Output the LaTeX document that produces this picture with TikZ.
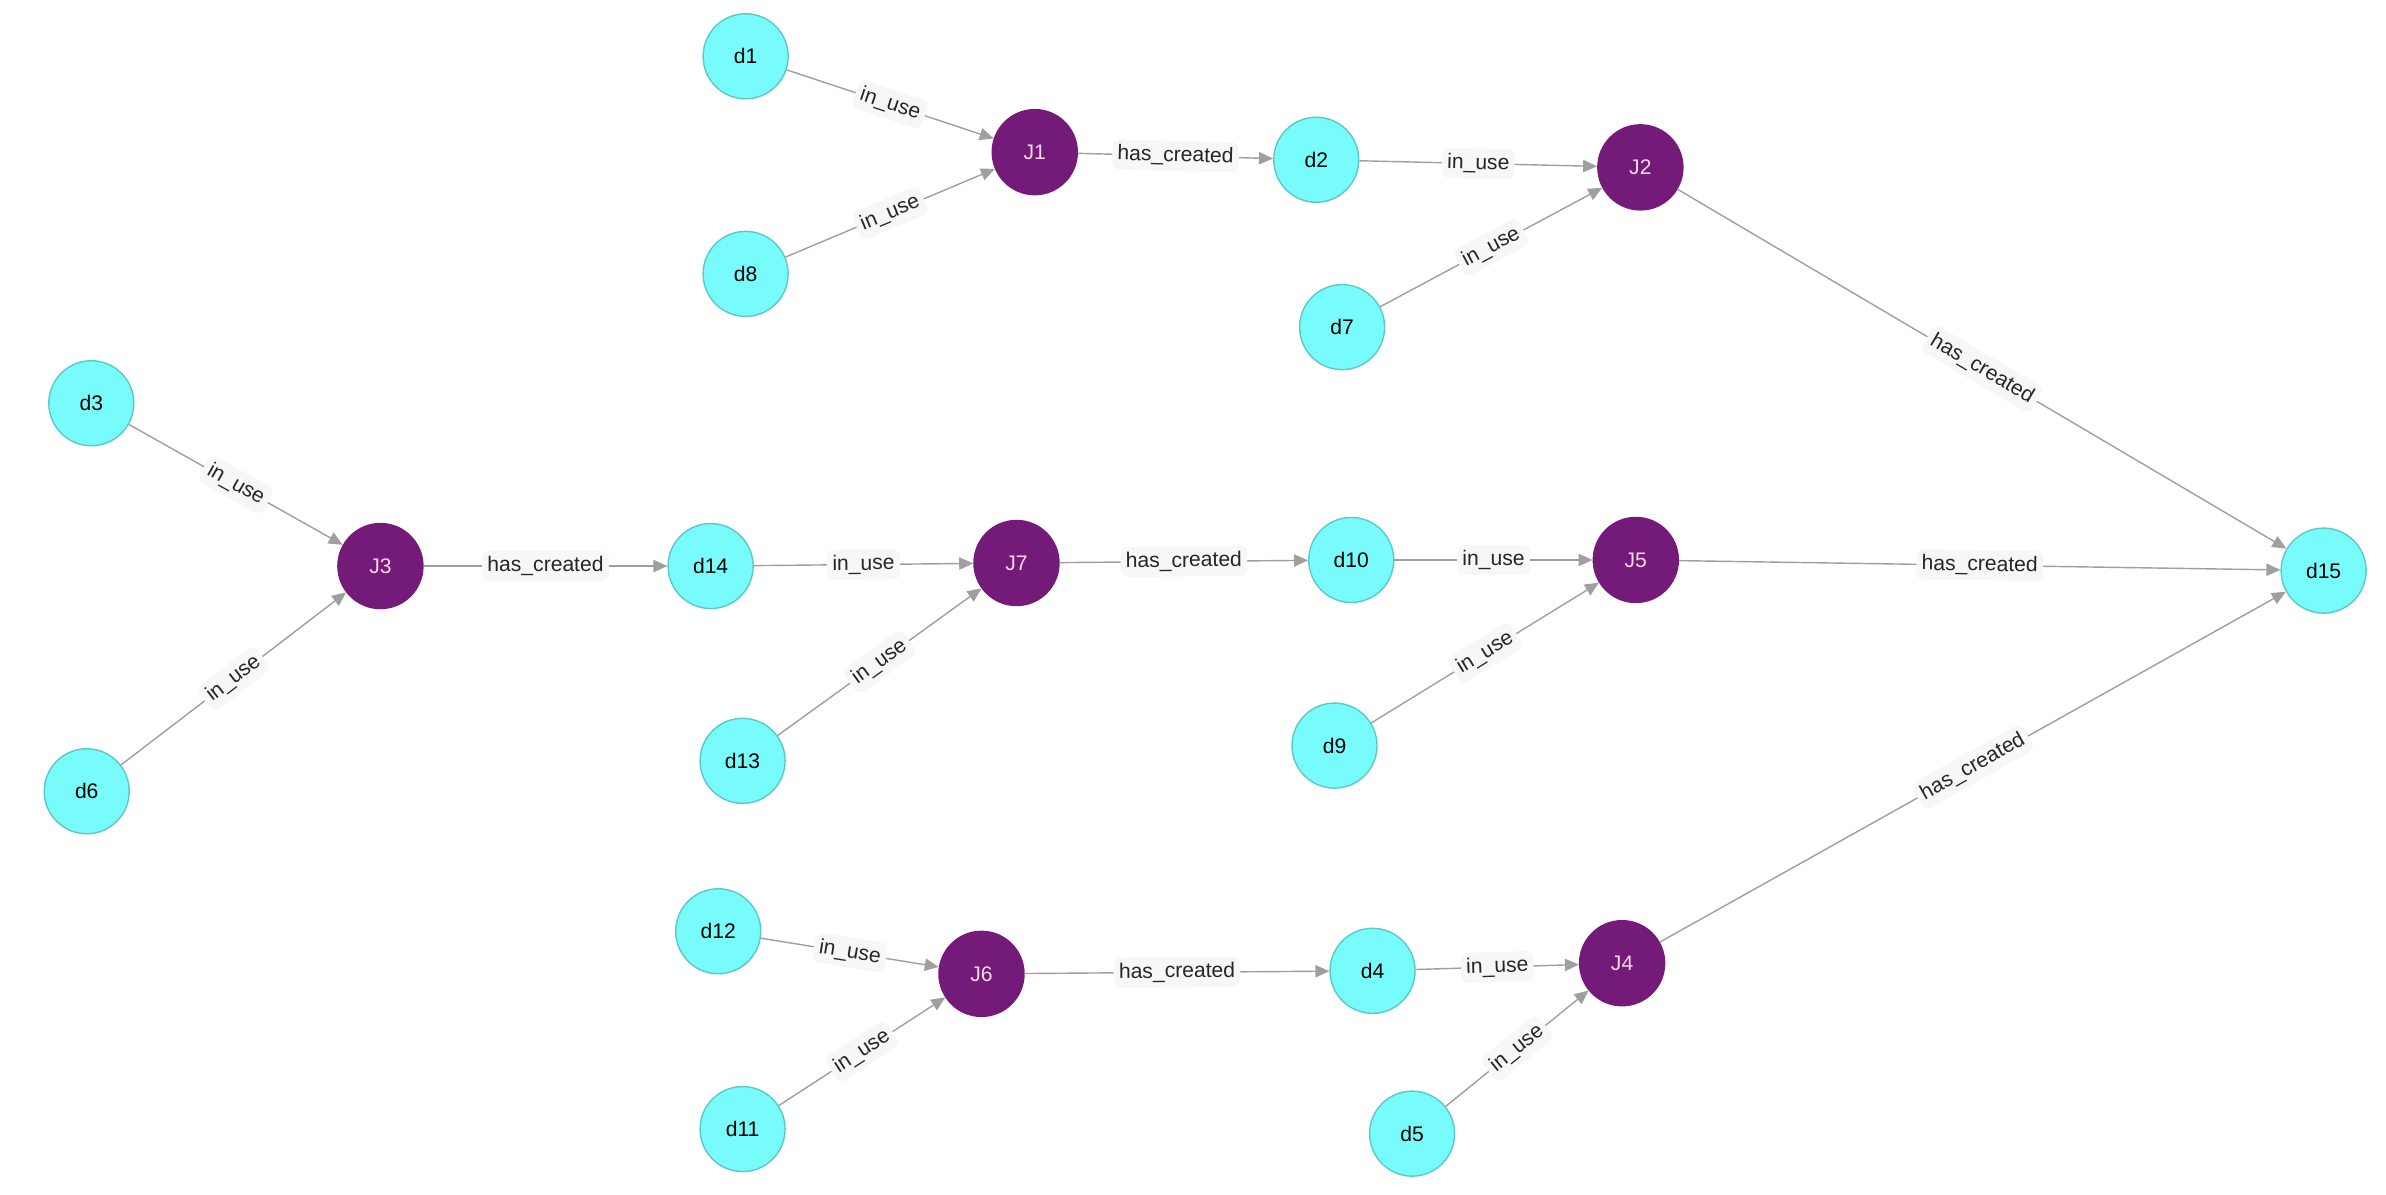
\documentclass[tikz,border=0pt]{standalone}
\usepackage{fontspec}
\setmainfont{Liberation Sans}
\usetikzlibrary{arrows.meta}
\definecolor{dcyan}{HTML}{78FBFB}
\definecolor{dborder}{HTML}{5CC8C8}
\definecolor{jpurple}{HTML}{741A78}
\tikzset{
  data/.style={circle, draw=dborder, fill=dcyan, minimum size=0.85cm, inner sep=0pt, font=\fontsize{6}{7}\selectfont},
  job/.style={circle, draw=jpurple, fill=jpurple, text=white!85!magenta, minimum size=0.85cm, inner sep=0pt, font=\fontsize{6}{7}\selectfont},
  arrow/.style={-{Triangle[length=4pt, width=3.5pt]}, draw=gray!75, line width=0.4pt},
  lbl/.style={sloped, fill=gray!6, rounded corners=2pt, inner sep=1.5pt, font=\fontsize{6}{7}\selectfont, text=black!85}
}

\begin{document}
\begin{tikzpicture}[x=0.01522cm, y=-0.01522cm]
\useasboundingbox (0,0) rectangle (1568,785);

% Top branch
\node[data] (d1) at (490,37) {d1};
\node[data] (d8) at (490,180) {d8};
\node[job] (J1) at (680,100) {J1};
\node[data] (d2) at (865,105) {d2};
\node[data] (d7) at (882,215) {d7};
\node[job] (J2) at (1078,110) {J2};

% Middle branch
\node[data] (d3) at (60,265) {d3};
\node[data] (d6) at (57,520) {d6};
\node[job] (J3) at (250,372) {J3};
\node[data] (d14) at (467,372) {d14};
\node[data] (d13) at (488,500) {d13};
\node[job] (J7) at (668,370) {J7};
\node[data] (d10) at (888,368) {d10};
\node[data] (d9) at (877,490) {d9};
\node[job] (J5) at (1075,368) {J5};

% Bottom branch
\node[data] (d12) at (472,612) {d12};
\node[data] (d11) at (488,742) {d11};
\node[job] (J6) at (645,640) {J6};
\node[data] (d4) at (902,638) {d4};
\node[data] (d5) at (928,745) {d5};
\node[job] (J4) at (1066,633) {J4};

% Result
\node[data] (d15) at (1527,375) {d15};

% in_use edges
\foreach \src/\dst in {d1/J1, d8/J1, d2/J2, d7/J2, d3/J3, d6/J3, d14/J7, d13/J7,
                       d10/J5, d9/J5, d12/J6, d11/J6, d4/J4, d5/J4}
  \draw[arrow] (\src) -- node[lbl] {in\_use} (\dst);

% has_created edges
\foreach \src/\dst in {J1/d2, J3/d14, J7/d10, J6/d4, J2/d15, J5/d15, J4/d15}
  \draw[arrow] (\src) -- node[lbl] {has\_created} (\dst);

\end{tikzpicture}
\end{document}
